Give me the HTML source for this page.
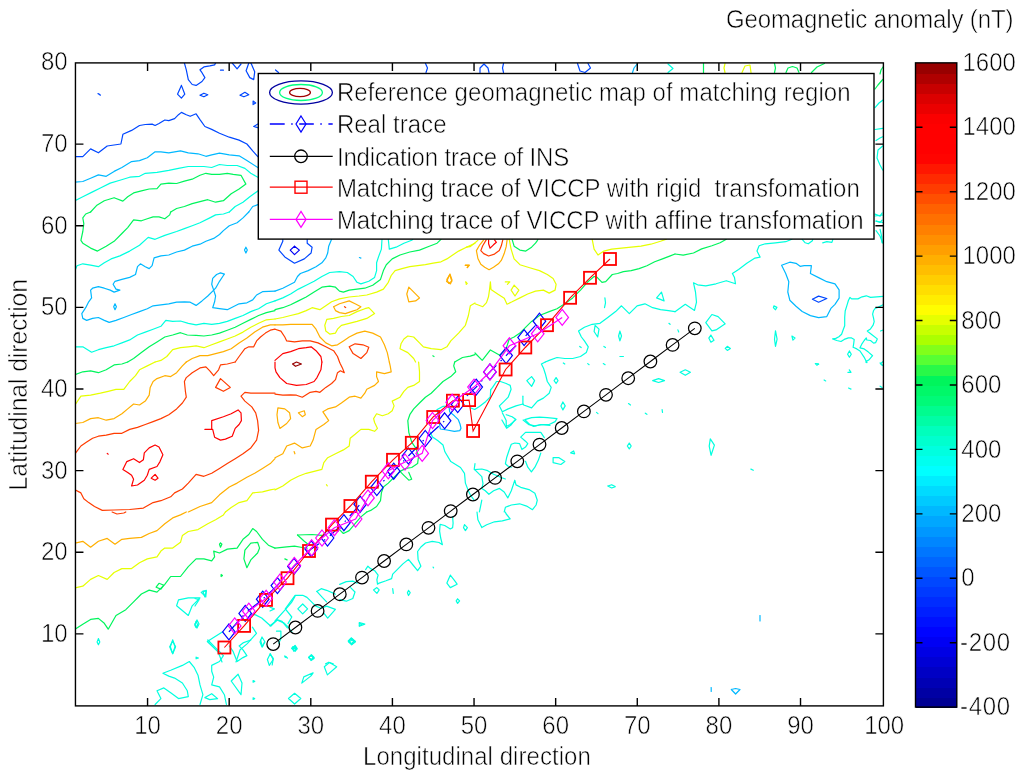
<!DOCTYPE html><html><head><meta charset="utf-8"><style>html,body{margin:0;padding:0;background:#fff;overflow:hidden}svg{display:block}</style></head><body><svg width="1024" height="780" viewBox="0 0 1024 780">
<rect width="1024" height="780" fill="#fff"/>
<defs><clipPath id="axclip"><rect x="75.45" y="62.9" width="807.95" height="643"/></clipPath></defs>
<g fill="none" stroke-width="1.2" stroke-linejoin="round" stroke-linecap="round" clip-path="url(#axclip)">
<path d="M75.0,156.7 L82.8,156.7 L90.6,148.9 L98.4,152.8 L107.2,146.0 L120.9,144.0 L122.9,134.3 L131.6,130.4 L139.5,125.5 L145.3,124.5 L152.1,124.1 L155.1,125.5 L159.0,123.5 L164.8,120.0 L168.8,120.6 L174.6,118.6 L178.5,114.7 L181.4,112.4 L186.3,114.7 L190.2,116.3 L196.1,113.8 L200.0,119.6 L204.9,126.5 L211.7,129.4 L219.5,133.3 L229.3,137.2 L239.1,140.1 L246.9,144.0 L252.7,150.9 L257.8,156.7" stroke="#0047ff"/>
<path d="M184.4,63.0 L186.3,69.8 L188.3,79.6 L192.2,84.5 L196.1,85.4 L202.0,81.5 L204.9,77.6 L202.0,72.7 L200.0,69.8 L203.9,66.9 L209.8,65.9 L214.6,64.9 L215.6,63.0" stroke="#0047ff"/>
<path d="M232.2,63.0 L237.1,68.8 L241.0,64.0" stroke="#0047ff"/>
<path d="M248.8,63.0 L246.1,70.8 L249.8,77.6 L253.7,79.6 L254.7,71.8 L251.8,64.9 L250.8,63.0" stroke="#0047ff"/>
<path d="M98.0,93.6 L99.4,94.2 L100.4,95.2 L98.0,93.6" stroke="#0047ff"/>
<path d="M181.4,85.4 L177.5,94.2 L181.4,98.1 L184.8,94.2 L181.4,85.4" stroke="#0047ff"/>
<path d="M200.0,95.2 L203.9,93.2 L207.8,94.8 L203.9,96.8 L200.0,95.2" stroke="#0047ff"/>
<path d="M240.0,95.2 L244.9,92.3 L248.8,94.8 L243.9,96.8 L240.0,95.2" stroke="#0047ff"/>
<path d="M253.1,101.1 L255.7,103.0 L253.1,104.6 L253.1,101.1" stroke="#0047ff"/>
<path d="M257.8,124.1 L253.7,126.5 L257.8,127.6" stroke="#0047ff"/>
<path d="M220.5,70.2 L223.4,70.2" stroke="#0047ff"/>
<path d="M75.0,182.1 L82.8,181.5 L90.6,178.2 L98.4,174.9 L106.2,176.3 L114.1,171.4 L121.9,167.5 L131.6,161.6 L139.5,160.6 L147.3,157.7 L155.1,151.8 L160.9,151.8 L168.8,152.8 L180.5,150.9 L188.3,152.8 L198.0,153.8 L205.9,156.3 L211.7,154.8 L219.5,153.2 L229.3,154.8 L239.1,155.8 L246.9,160.6 L257.8,167.5" stroke="#00b8ff"/>
<path d="M75.0,200.7 L82.8,196.8 L92.6,191.9 L100.4,188.0 L110.2,183.1 L119.9,180.2 L129.7,177.2 L139.5,176.3 L145.3,173.3 L157.0,172.4 L168.8,170.4 L178.5,168.4 L188.3,166.5 L196.1,166.5 L203.9,166.5 L211.7,167.5 L219.5,164.5 L227.3,165.5 L237.1,165.5 L244.9,168.4 L250.8,173.3 L257.8,177.2" stroke="#00ffdf"/>
<path d="M90.6,212.0 L96.5,205.6 L104.3,200.7 L114.1,197.7 L122.9,201.1 L127.7,196.8 L133.6,192.9 L141.4,190.9 L149.2,189.0 L157.0,188.6 L160.9,184.1 L168.8,183.1 L176.6,183.5 L184.4,181.1 L192.2,179.2 L200.0,175.3 L205.9,173.3 L211.7,174.3 L219.5,174.3 L227.3,173.3 L233.2,174.3 L241.0,175.3 L245.9,184.1 L239.1,189.0 L231.2,193.8 L223.4,200.7 L215.6,202.2 L207.8,199.7 L200.0,201.6 L192.2,203.6 L184.4,206.5 L176.6,208.5 L170.7,212.0" stroke="#00f55c"/>
<path d="M229.3,212.0 L235.2,206.5 L243.0,202.2 L249.8,196.8 L257.8,190.9" stroke="#00ffdf"/>
<path d="M248.8,212.0 L252.7,206.5 L257.8,204.6" stroke="#00b8ff"/>
<path d="M170.7,212.0 L169.7,214.9 L164.8,218.8 L159.0,216.9 L153.1,216.9 L147.3,218.8 L141.4,220.8 L133.6,219.8 L127.7,227.6 L121.9,233.5 L114.1,241.3 L106.2,246.2 L97.5,251.1 L90.6,248.1 L82.8,243.2 L80.9,240.3 L82.8,231.5 L83.8,223.7 L82.8,217.9 L85.7,214.0 L90.6,212.0" stroke="#00f55c"/>
<path d="M75.0,270.6 L77.0,265.7 L82.8,263.8 L90.6,265.1 L98.4,266.7 L104.3,262.8 L111.1,258.9 L119.9,255.9 L129.7,251.1 L139.5,245.2 L148.2,237.4 L155.1,239.3 L164.8,235.4 L176.6,231.5 L184.4,228.6 L192.2,225.7 L200.0,222.7 L209.8,217.9 L215.6,214.9 L223.4,214.0 L229.3,212.0" stroke="#00ffdf"/>
<path d="M248.8,212.0 L243.0,217.9 L237.1,222.7 L229.3,225.7 L223.4,230.6 L219.5,234.5 L213.7,238.4 L205.9,241.3 L200.0,244.2 L192.2,246.2 L184.4,250.1 L176.6,252.0 L168.8,255.0 L160.9,255.9 L154.1,257.9 L152.1,265.7 L149.2,268.6 L145.3,266.7 L140.4,263.8 L137.5,266.7 L135.5,274.5 L129.7,277.4 L121.9,279.4 L115.0,281.3 L113.1,284.3 L116.0,289.1 L119.9,290.1 L114.1,292.1 L110.2,290.1 L104.3,288.2 L98.4,286.6 L92.6,288.2 L90.6,290.1 L91.6,297.9 L88.7,301.8 L85.7,307.7 L81.8,313.6 L82.8,318.4 L86.7,320.4 L92.6,318.4 L98.4,317.5 L104.3,320.4 L109.2,322.4 L116.0,320.4 L123.8,317.5 L131.6,314.5 L139.5,311.6 L147.3,308.7 L153.1,305.8 L160.9,304.8 L168.8,303.8 L176.6,302.2 L184.4,301.8 L190.2,302.2 L196.1,305.4 L202.0,300.9 L207.8,296.0 L212.7,291.1 L215.6,288.2 L219.5,281.3 L223.4,275.5 L224.4,274.1 L220.5,272.9 L216.6,274.5 L212.7,278.4 L211.7,284.3 L213.7,290.1 L215.6,296.0 L214.6,301.8 L212.7,307.7 L219.5,308.7 L227.3,309.7 L233.2,306.7 L239.1,303.8 L246.9,302.8 L252.7,299.9 L256.6,295.0 L262.5,291.7 L275.0,291.1" stroke="#00b8ff"/>
<path d="M115.0,303.8 L116.4,306.7 L115.0,309.7 L113.7,306.7 L115.0,303.8" stroke="#00b8ff"/>
<path d="M245.9,247.2 L247.3,250.1 L245.9,253.0 L244.5,250.1 L245.9,247.2" stroke="#00b8ff"/>
<path d="M75.0,346.8 L82.8,346.8 L91.6,352.2 L98.4,349.7 L106.2,347.7 L114.1,345.8 L121.9,342.9 L129.7,339.9 L137.5,335.0 L145.3,332.1 L153.1,329.2 L160.9,326.3 L165.8,320.4 L172.7,321.4 L180.5,321.0 L188.3,323.3 L196.1,324.9 L203.9,323.3 L211.7,324.3 L219.5,323.3 L227.3,321.4 L235.2,318.4 L243.0,315.5 L250.8,311.6 L258.6,308.7 L266.4,303.8 L275.0,300.9" stroke="#00ffdf"/>
<path d="M127.7,362.0 L133.6,358.5 L141.4,352.6 L149.2,346.8 L157.0,341.9 L164.8,337.0 L172.7,335.0 L180.5,332.7 L187.3,335.0 L196.1,335.4 L203.9,336.0 L211.7,335.0 L219.5,333.1 L227.3,330.2 L235.2,327.2 L243.0,323.3 L250.8,319.4 L258.6,315.5 L266.4,312.6 L275.0,310.6" stroke="#00f55c"/>
<path d="M155.1,362.0 L160.9,360.4 L166.8,356.5 L172.7,349.7 L180.5,347.7 L188.3,346.8 L196.1,345.8 L203.9,347.7 L211.7,344.8 L219.5,341.9 L227.3,339.0 L235.2,336.0 L243.0,332.1 L250.8,327.2 L258.6,323.3 L266.4,319.8 L275.0,319.0" stroke="#e6ff00"/>
<path d="M186.3,362.0 L192.2,358.5 L200.0,355.6 L207.8,355.6 L215.6,353.6 L223.4,351.6 L231.2,348.7 L239.1,342.9 L246.9,338.0 L254.7,332.1 L262.5,327.2 L270.3,324.9 L275.0,324.9" stroke="#ffaf00"/>
<path d="M235.2,362.0 L239.1,356.5 L244.9,348.7 L248.8,346.8 L253.7,346.8 L256.6,340.9 L260.5,337.0 L265.4,333.1 L270.3,330.2 L275.0,329.2" stroke="#ff3c00"/>
<path d="M75.0,374.7 L82.8,371.8 L90.6,370.8 L98.4,372.7 L106.2,369.8 L114.1,364.9 L121.9,364.0 L127.7,362.0" stroke="#00f55c"/>
<path d="M75.0,405.0 L80.9,396.2 L90.6,395.2 L100.4,393.2 L108.2,391.3 L116.0,389.3 L123.8,389.3 L129.7,381.5 L135.5,375.7 L139.5,369.8 L147.3,365.9 L155.1,362.0" stroke="#e6ff00"/>
<path d="M75.0,423.5 L82.8,422.5 L90.6,418.6 L98.4,417.7 L106.2,420.2 L114.1,418.6 L121.9,413.8 L127.7,408.9 L133.6,404.0 L139.5,405.0 L145.3,401.1 L149.2,395.2 L150.2,387.4 L153.1,381.5 L157.0,378.6 L164.8,375.7 L170.7,376.6 L176.6,372.7 L182.4,365.9 L186.3,362.0" stroke="#ffaf00"/>
<path d="M235.2,362.0 L227.3,364.0 L220.5,364.9 L218.6,369.8 L213.7,375.7 L209.8,370.8 L205.9,366.9 L200.0,367.9 L192.2,372.7 L186.3,377.6 L184.4,381.5 L185.4,391.3 L186.3,397.2 L182.4,403.0 L176.6,408.9 L168.8,414.7 L160.9,418.6 L153.1,421.6 L145.3,424.5 L137.5,427.4 L129.7,429.4 L121.9,433.3 L114.1,433.3 L106.2,435.2 L98.4,436.2 L92.6,438.2 L86.7,442.1 L80.9,446.0 L75.0,453.8" stroke="#ff3c00"/>
<path d="M75.0,489.9 L80.9,492.9 L83.8,498.7 L88.7,502.6 L94.5,506.5 L102.3,510.4 L114.1,510.0 L129.7,509.5 L143.4,508.1 L153.1,502.6 L160.9,500.7 L170.7,496.8 L174.6,492.9 L182.4,489.0 L188.3,483.1 L196.1,474.3 L203.9,476.3 L211.7,473.3 L219.5,468.4 L227.3,463.6 L235.2,458.7 L243.0,453.8 L250.8,447.9 L256.6,440.1 L258.6,430.4 L257.6,420.6 L255.7,412.8 L251.8,406.9 L244.9,401.1 L241.0,396.2 L244.9,392.3 L250.8,393.2 L262.5,393.2 L275.0,393.2" stroke="#ff3c00"/>
<path d="M215.6,387.4 L220.5,378.6 L230.3,387.4 L223.4,391.3 L215.6,387.4" stroke="#ff3c00"/>
<path d="M211.7,420.6 L223.4,416.7 L231.2,413.8 L238.1,409.9 L241.0,412.8 L241.4,420.6 L239.1,424.5 L235.2,428.4 L232.2,436.2 L225.4,439.1 L220.5,440.1 L214.6,437.2 L212.7,429.4 L204.9,429.4 L211.7,429.4 L211.7,420.6" stroke="#ff0000"/>
<path d="M122.9,469.4 L126.8,461.6 L133.6,458.7 L139.5,462.6 L143.4,459.7 L144.3,452.8 L149.2,447.9 L155.1,445.0 L159.0,447.0 L162.9,454.8 L160.0,461.6 L157.0,466.5 L149.2,469.4 L147.3,475.3 L144.3,480.2 L137.5,485.0 L131.6,486.0 L133.6,479.2 L131.6,475.3 L127.7,472.4 L122.9,469.4" stroke="#ff0000"/>
<path d="M151.2,478.2 L155.1,474.3 L158.0,478.2 L155.1,480.2 L151.2,478.2" stroke="#ff0000"/>
<path d="M107.2,453.4 L108.2,454.2" stroke="#ff0000"/>
<path d="M188.3,512.0 L200.0,506.5 L211.7,502.6 L219.5,494.8 L229.3,487.0 L237.1,483.1 L246.9,477.2 L254.7,473.3 L262.5,468.4 L270.3,463.6 L275.0,458.7" stroke="#ffaf00"/>
<path d="M225.4,512.0 L231.2,507.5 L239.1,502.6 L246.9,500.7 L252.7,492.9 L262.5,491.9 L270.3,489.9 L275.0,489.0" stroke="#e6ff00"/>
<path d="M112.1,512.0 L117.0,514.0 L123.8,513.0 L125.8,512.0" stroke="#ff3c00"/>
<path d="M75.0,543.2 L82.8,541.3 L90.6,547.2 L98.4,541.3 L107.2,538.4 L115.0,544.2 L121.9,539.3 L129.7,538.4 L141.4,537.4 L149.2,533.5 L157.0,530.6 L164.8,523.7 L172.7,517.9 L180.5,514.9 L186.3,512.0" stroke="#ffaf00"/>
<path d="M75.0,587.8 L82.8,586.2 L90.6,579.4 L98.4,575.5 L107.2,579.4 L114.1,572.5 L121.9,568.6 L131.6,568.6 L139.5,562.8 L147.3,558.9 L157.0,556.9 L160.9,551.1 L164.8,548.1 L172.7,548.1 L180.5,542.3 L182.4,535.4 L188.3,531.5 L198.0,529.6 L207.8,523.7 L215.6,519.8 L223.4,514.9 L225.4,512.0" stroke="#e6ff00"/>
<path d="M75.0,629.2 L82.8,624.3 L90.6,619.4 L98.4,618.4 L104.3,623.3 L108.2,629.2 L116.0,615.5 L125.8,609.7 L133.6,601.8 L141.4,594.0 L149.2,590.1 L157.0,592.1 L164.8,584.3 L170.7,576.5 L180.5,576.5 L188.3,566.7 L196.1,558.9 L203.9,558.9 L211.7,560.8 L214.6,556.9 L213.7,551.1 L219.5,553.0 L227.3,549.1 L237.1,548.1 L243.0,539.3 L248.8,534.5 L252.7,528.6 L256.6,531.5 L262.5,539.3 L268.4,545.2 L275.0,548.1" stroke="#00f55c"/>
<path d="M156.1,587.2 L159.0,583.3 L163.9,585.2 L160.9,589.1 L156.1,587.2" stroke="#00f55c"/>
<path d="M244.9,550.1 L250.8,543.2 L257.6,542.3 L259.6,548.1 L257.6,553.0 L250.8,559.9 L246.9,567.7 L243.9,558.9 L244.9,550.1" stroke="#00f55c"/>
<path d="M220.5,542.9 L221.9,544.2 L220.5,547.2 L219.5,544.2 L220.5,542.9" stroke="#00f55c"/>
<path d="M221.1,574.5 L222.5,575.5 L221.1,576.5 L221.1,574.5" stroke="#00f55c"/>
<path d="M178.5,599.9 L188.3,597.9 L200.0,597.9 L192.2,605.8 L188.3,615.5 L181.4,609.7 L176.6,605.8 L178.5,599.9" stroke="#00ffdf"/>
<path d="M202.9,591.1 L206.2,591.1 L204.9,597.0 L202.9,591.1" stroke="#00ffdf"/>
<path d="M196.1,621.4 L197.7,624.9 L196.1,627.6 L194.7,624.9 L196.1,621.4" stroke="#00ffdf"/>
<path d="M98.4,638.6 L99.8,641.9 L98.4,644.8 L97.1,641.9 L98.4,638.6" stroke="#00ffdf"/>
<path d="M172.7,639.9 L175.0,646.8 L172.7,653.6 L170.3,646.8 L172.7,639.9" stroke="#00ffdf"/>
<path d="M195.0,598.5 L199.1,599.7 L195.0,606.0" stroke="#00ffdf"/>
<path d="M201.2,592.3 L206.3,590.3 L205.8,596.9 L201.2,592.3" stroke="#00ffdf"/>
<path d="M222.7,631.8 L207.3,641.5 L218.0,651.8 L222.0,662.0" stroke="#00ffdf"/>
<path d="M250.0,614.0 L255.5,614.9 L261.7,618.0 L270.9,626.2 L277.0,620.0 L284.2,623.1 L288.3,627.2 L292.0,632.0" stroke="#00ffdf"/>
<path d="M275.0,621.0 L285.3,609.7 L291.4,602.6 L295.0,596.4" stroke="#00ffdf"/>
<path d="M236.0,662.0 L240.1,649.7 L247.3,643.6 L256.5,633.3 L252.4,627.2" stroke="#00ffdf"/>
<path d="M197.0,620.0 L199.0,624.0 L197.0,628.0 L195.0,624.0 L197.0,620.0" stroke="#00ffdf"/>
<path d="M262.0,637.0 L265.0,642.0 L262.0,647.0 L260.0,642.0 L262.0,637.0" stroke="#00ffdf"/>
<path d="M155.1,704.5 L160.9,698.6 L157.0,690.8 L163.9,687.9 L170.7,692.7 L178.5,698.6 L188.3,696.6 L187.3,690.8 L182.4,683.0 L174.6,678.1 L168.8,676.1 L162.9,673.2 L170.7,670.3 L182.4,665.4 L189.3,661.5 L194.1,667.3 L198.0,675.2 L200.0,684.9 L202.9,694.7 L200.0,704.5" stroke="#00ffdf"/>
<path d="M226.4,704.5 L224.4,694.7 L219.5,686.9 L211.7,684.9 L213.7,677.1 L211.7,671.2 L211.7,665.4 L219.5,661.5 L223.4,655.6 L219.5,651.7 L215.6,647.8 L209.8,642.0 L207.8,640.0" stroke="#00ffdf"/>
<path d="M229.3,645.9 L233.2,651.7 L237.1,661.5 L243.0,657.6 L246.9,655.6 L243.0,649.8 L239.1,645.9 L243.0,642.9 L250.8,640.0" stroke="#00ffdf"/>
<path d="M172.7,641.0 L175.6,646.8 L172.7,653.7 L169.7,646.8 L172.7,641.0" stroke="#00ffdf"/>
<path d="M231.2,681.0 L238.1,674.2 L242.0,683.0 L241.0,694.7 L231.2,681.0" stroke="#00ffdf"/>
<path d="M204.9,697.6 L211.7,693.7 L217.6,698.6 L209.8,699.6 L204.9,697.6" stroke="#00ffdf"/>
<path d="M270.3,653.7 L273.2,659.5 L269.3,665.4 L267.4,659.5 L270.3,653.7" stroke="#00ffdf"/>
<path d="M196.1,657.2 L198.4,658.0 L196.1,658.8 L196.1,657.2" stroke="#00ffdf"/>
<path d="M253.1,680.6 L254.7,681.4 L253.1,682.2 L253.1,680.6" stroke="#00ffdf"/>
<path d="M253.1,697.8 L254.7,698.6 L253.1,699.4 L253.1,697.8" stroke="#00ffdf"/>
<path d="M260.5,640.0 L262.5,646.8 L264.5,642.0" stroke="#00ffdf"/>
<path d="M282.8,239.3 L282.8,241.3 L278.9,250.1 L284.8,256.9 L294.5,263.2 L304.3,258.9 L311.1,253.0 L312.1,247.2 L307.2,243.2 L307.2,239.3" stroke="#0047ff"/>
<path d="M294.5,246.2 L299.4,250.1 L294.5,254.6 L290.2,250.1 L294.5,246.2" stroke="#0000f4"/>
<path d="M275.0,291.1 L282.8,288.2 L290.6,284.3 L294.5,282.3 L297.5,276.5 L300.4,273.5 L308.2,270.6 L316.0,266.7 L321.9,262.8 L325.8,257.9 L327.7,253.0 L328.7,246.2 L331.6,239.3" stroke="#00b8ff"/>
<path d="M359.4,257.5 L360.9,258.1" stroke="#00b8ff"/>
<path d="M275.0,300.9 L282.8,297.9 L290.6,294.0 L298.4,289.1 L306.2,285.2 L314.1,281.3 L321.9,276.5 L329.7,272.5 L339.5,271.6 L347.3,272.5 L353.1,276.5 L357.0,282.3 L360.9,283.9 L368.8,281.3 L374.6,277.4 L376.6,270.6 L376.6,262.8 L378.5,256.9 L381.4,249.1 L382.0,239.3" stroke="#00ffdf"/>
<path d="M388.3,239.3 L389.3,249.1 L396.1,247.2 L403.9,243.2 L411.7,240.3 L412.7,239.3" stroke="#00ffdf"/>
<path d="M275.0,309.7 L282.8,307.7 L290.6,304.8 L298.4,300.9 L306.2,297.0 L314.1,292.1 L321.9,287.2 L329.7,286.2 L335.5,287.2 L339.5,291.1 L343.4,292.1 L349.2,290.1 L357.0,289.1 L364.8,288.2 L372.7,285.2 L380.5,279.4 L383.4,270.6 L386.3,264.7 L392.2,258.9 L400.0,255.0 L409.8,252.0 L419.5,250.1 L429.3,246.2 L437.1,243.2 L441.0,239.3" stroke="#00f55c"/>
<path d="M275.0,319.0 L282.8,317.5 L290.6,315.5 L298.4,313.6 L306.2,310.6 L312.1,307.7 L319.9,309.7 L325.8,305.8 L331.6,301.8 L339.5,298.9 L349.2,297.0 L359.0,296.0 L366.8,295.0 L376.6,292.1 L383.4,289.1 L388.3,282.3 L391.2,275.5 L395.1,270.6 L402.0,268.6 L409.8,266.7 L417.6,265.7 L425.4,264.7 L433.2,263.2 L441.0,261.8 L446.9,258.9 L452.7,255.0 L458.6,251.1 L466.4,247.2 L475.0,243.2" stroke="#e6ff00"/>
<path d="M326.8,319.4 L333.6,318.4 L341.4,316.5 L349.2,315.5 L357.0,311.6 L364.8,308.7 L368.8,307.7 L374.6,313.6 L366.8,318.4 L357.0,321.4 L349.2,323.3 L341.4,325.3 L337.5,329.2 L335.5,333.1 L329.7,334.1 L325.8,331.1 L324.8,325.3 L326.8,319.4" stroke="#e6ff00"/>
<path d="M475.0,303.0 L470.3,305.8 L468.4,315.5 L465.4,325.3 L458.6,333.1 L450.8,340.9 L446.9,346.8 L441.0,349.7 L431.2,348.7 L423.4,346.8 L419.5,342.9 L413.7,337.0 L407.8,336.0 L403.9,339.0 L401.0,343.8 L400.0,348.7 L407.8,352.6 L413.7,358.5 L415.6,362.0" stroke="#e6ff00"/>
<path d="M333.6,306.7 L339.5,303.8 L349.2,300.9 L355.1,303.8 L360.9,306.7 L357.0,309.7 L351.2,311.6 L345.3,313.6 L339.5,312.6 L335.5,310.6 L333.6,306.7" stroke="#ffaf00"/>
<path d="M344.5,306.7 L345.7,307.5" stroke="#ff3c00"/>
<path d="M408.8,287.2 L419.5,297.9 L415.6,300.9 L408.8,301.8 L406.8,294.0 L408.8,287.2" stroke="#ffaf00"/>
<path d="M449.8,274.5 L451.8,281.3 L448.8,283.3 L446.9,279.4 L449.8,274.5" stroke="#ffaf00"/>
<path d="M465.4,265.1 L469.3,265.1 L467.4,267.7" stroke="#ffaf00"/>
<path d="M465.6,281.9 L467.2,283.5" stroke="#e6ff00"/>
<path d="M275.0,324.9 L282.8,324.9 L290.6,324.3 L298.4,324.3 L306.2,324.3 L312.1,324.3 L316.0,329.2 L319.9,337.0 L325.8,342.9 L331.6,345.8 L337.5,344.8 L343.4,340.9 L349.2,337.0 L357.0,333.1 L364.8,331.1 L372.7,333.1 L380.5,337.0 L384.4,344.8 L387.3,352.6 L389.3,362.0" stroke="#ffaf00"/>
<path d="M275.0,329.2 L280.9,331.1 L284.8,337.0 L286.7,340.9 L294.5,341.9 L302.3,340.9 L310.2,340.9 L318.0,342.9 L325.8,346.8 L333.6,350.7 L337.5,356.5 L339.5,362.0" stroke="#ff3c00"/>
<path d="M349.2,346.8 L355.1,343.8 L362.9,344.8 L368.8,347.2 L366.8,352.6 L360.9,358.5 L353.1,353.6 L349.2,346.8" stroke="#ff3c00"/>
<path d="M275.0,360.4 L282.8,353.6 L290.6,351.6 L298.4,348.7 L306.2,347.7 L311.1,346.8 L316.0,350.7 L320.9,356.5 L321.9,362.0" stroke="#ff0000"/>
<path d="M454.7,362.0 L462.5,357.5 L470.3,356.1 L475.0,354.6" stroke="#00f55c"/>
<path d="M432.8,355.8 L434.0,356.5" stroke="#00f55c"/>
<path d="M321.9,362.0 L320.9,369.8 L317.0,377.6 L314.1,381.5 L306.2,384.5 L296.5,385.4 L286.7,383.5 L279.9,377.6 L276.0,371.8 L275.0,367.9 L275.0,362.0" stroke="#ff0000"/>
<path d="M292.6,364.0 L296.5,362.0 L301.4,364.0 L295.5,366.3 L292.6,364.0" stroke="#980000"/>
<path d="M275.0,394.2 L282.8,395.2 L290.6,394.8 L296.5,395.2 L302.3,397.2 L310.2,392.3 L316.0,391.3 L319.9,392.3 L325.8,387.4 L331.6,383.5 L335.5,379.6 L337.5,372.7 L340.4,370.8 L344.3,372.7 L342.4,367.9 L340.4,364.0 L339.5,362.0" stroke="#ff3c00"/>
<path d="M275.0,457.7 L282.8,453.8 L286.7,446.0 L294.5,443.1 L302.3,447.9 L310.2,446.0 L313.1,440.1 L316.0,429.4 L323.8,424.5 L328.7,420.6 L324.8,414.7 L322.9,411.8 L327.7,408.9 L335.5,406.9 L341.4,403.0 L349.2,397.2 L355.1,396.2 L360.9,398.1 L364.8,393.2 L366.8,389.3 L374.6,385.4 L378.5,381.5 L376.6,376.6 L376.6,371.8 L384.4,373.7 L391.2,371.8 L390.2,365.9 L389.3,362.0" stroke="#ffaf00"/>
<path d="M277.9,407.9 L284.8,408.9 L289.6,412.8 L290.6,418.6 L286.7,423.5 L279.9,428.4 L277.9,422.5 L277.0,414.7 L277.9,407.9" stroke="#ffaf00"/>
<path d="M298.4,412.8 L304.3,410.8 L305.3,414.7 L302.3,416.7 L298.4,412.8" stroke="#ffaf00"/>
<path d="M294.1,451.5 L294.9,453.8" stroke="#ffaf00"/>
<path d="M275.0,489.9 L282.8,486.0 L290.6,480.2 L298.4,476.3 L306.2,473.3 L314.1,471.4 L321.9,469.4 L323.8,462.6 L327.7,457.7 L335.5,453.8 L343.4,449.9 L349.2,446.0 L350.2,438.2 L355.1,434.3 L360.9,429.4 L368.8,429.4 L374.6,431.3 L377.5,428.4 L374.6,422.5 L373.6,418.6 L376.6,413.8 L382.4,415.7 L388.3,413.8 L392.2,410.8 L394.1,405.9 L392.2,401.1 L400.0,397.2 L403.9,391.3 L407.8,387.4 L413.7,385.4 L419.5,381.5 L419.5,371.8 L418.6,362.0" stroke="#e6ff00"/>
<path d="M326.4,484.7 L327.3,485.8" stroke="#e6ff00"/>
<path d="M454.7,362.0 L453.7,365.9 L455.7,371.8 L450.8,376.6 L443.0,381.5 L437.1,387.4 L431.2,393.2 L425.4,397.2 L419.5,403.0 L413.7,408.9 L409.8,414.7 L407.8,420.6 L408.8,432.3 L411.7,442.1 L415.6,447.9 L418.6,455.8 L417.6,463.6 L411.7,467.5 L405.9,468.4 L400.0,471.4 L394.1,477.2 L388.3,483.1 L383.4,487.0 L381.4,492.9 L380.5,500.7 L376.6,506.5 L370.7,510.4 L366.8,512.0" stroke="#00f55c"/>
<path d="M400.0,471.4 L403.9,475.3 L408.8,480.2 L411.7,479.2 L408.8,472.4" stroke="#00f55c"/>
<path d="M475.0,463.6 L474.2,469.4" stroke="#00ffdf"/>
<path d="M437.2,409.5 L440.3,429.0 L447.0,430.0 L454.4,431.4 L459.8,430.6 L461.0,428.3 L460.0,424.0 L458.3,419.7 L454.4,415.8 L449.7,411.9 L448.9,406.0" stroke="#00b8ff"/>
<path d="M437.2,409.5 L442.7,406.4 L448.9,406.0" stroke="#00ffdf"/>
<path d="M470.8,408.0 L474.7,409.5 L479.4,406.4 L485.6,401.7 L490.3,397.0 L490.7,390.0" stroke="#00ffdf"/>
<path d="M430.2,432.2 L432.5,436.9 L438.0,440.8 L443.0,445.0 L444.9,451.8 L450.8,461.6 L460.5,467.5 L464.5,473.3 L465.4,483.1 L468.4,490.9 L470.3,494.8 L474.0,500.0" stroke="#00ffdf"/>
<path d="M275.0,548.1 L286.7,546.8 L294.5,546.2 L302.3,547.5 L307.2,548.1" stroke="#00f55c"/>
<path d="M297.5,535.0 L312.1,534.5 L321.9,535.4" stroke="#00f55c"/>
<path d="M297.5,535.0 L304.3,541.3 L309.2,545.2" stroke="#00f55c"/>
<path d="M366.8,512.0 L360.9,516.9 L355.1,523.7 L349.2,530.6 L343.4,533.5 L339.5,529.6 L337.5,527.6" stroke="#00f55c"/>
<path d="M284.8,558.9 L287.1,559.9" stroke="#00f55c"/>
<path d="M464.5,524.7 L467.4,527.6 L465.4,530.6 L463.5,527.6 L464.5,524.7" stroke="#00ffdf"/>
<path d="M457.6,598.9 L459.6,600.9 L457.6,603.4 L456.2,600.9 L457.6,598.9" stroke="#00ffdf"/>
<path d="M359.4,623.3 L361.9,624.3 L359.4,625.7" stroke="#00ffdf"/>
<path d="M351.2,638.0 L354.1,640.9 L351.2,643.8 L348.2,640.9 L351.2,638.0" stroke="#00ffdf"/>
<path d="M292.6,646.8 L296.5,648.7 L293.6,651.1 L292.6,646.8" stroke="#00ffdf"/>
<path d="M311.1,655.6 L313.7,657.5 L311.1,659.5 L308.6,657.5 L311.1,655.6" stroke="#00ffdf"/>
<path d="M286.3,656.9 L287.5,658.1" stroke="#00ffdf"/>
<path d="M452.6,516.5 L453.1,523.3 L452.6,527.8 L450.3,528.9 L444.7,525.5 L440.1,524.4 L439.6,531.2 L440.7,538.0 L442.4,544.7 L439.0,542.5 L432.2,541.3 L425.5,543.0 L420.9,547.0 L417.6,551.5 L418.1,559.4 L420.9,566.2 L417.6,570.7 L413.0,565.0 L408.5,559.4 L402.9,563.9 L397.2,569.6 L392.7,574.1 L391.6,578.6 L386.0,580.8 L379.2,583.1 L377.5,584.2 L376.9,579.7 L378.1,575.2 L374.7,570.7 L370.2,568.4 L367.9,566.2 L365.6,569.6" stroke="#00ffdf"/>
<path d="M373.5,589.9 L376.9,587.6 L379.2,589.9 L376.9,593.3 L373.5,589.9" stroke="#00ffdf"/>
<path d="M450.3,575.2 L454.8,580.8 L457.1,584.2 L450.3,587.6 L446.9,583.1 L450.3,575.2" stroke="#00ffdf"/>
<path d="M408.5,590.4 L410.2,592.7 L408.5,595.5 L407.4,592.7 L408.5,590.4" stroke="#00ffdf"/>
<path d="M392.7,588.7 L393.3,593.3" stroke="#00ffdf"/>
<path d="M433.1,567.1 L433.6,567.8" stroke="#00ffdf"/>
<path d="M270.0,625.8 L277.6,619.8 L282.0,621.4 L287.4,627.9" stroke="#00ffdf"/>
<path d="M288.0,623.6 L291.8,617.0 L285.3,608.9 L295.1,595.3 L302.7,595.3 L307.0,597.4 L315.8,606.1 L321.2,608.3 L326.6,606.1 L335.4,609.4 L327.7,618.1 L323.4,612.7" stroke="#00ffdf"/>
<path d="M302.7,604.0 L307.6,608.9 L302.7,613.8 L297.8,608.9 L302.7,604.0" stroke="#00ffdf"/>
<path d="M316.8,591.4 L321.2,588.7 L326.6,590.3 L333.2,593.1 L335.4,594.2" stroke="#00ffdf"/>
<path d="M316.8,591.4 L322.3,597.4 L326.6,601.8" stroke="#00ffdf"/>
<path d="M339.7,584.4 L346.3,581.6 L352.8,581.1 L357.1,583.3" stroke="#00ffdf"/>
<path d="M350.6,587.6 L355.0,592.0 L352.8,598.5 L346.3,601.2 L339.7,599.6" stroke="#00ffdf"/>
<path d="M276.5,631.2 L280.9,631.2 L280.9,638.8 L278.7,643.2" stroke="#00ffdf"/>
<path d="M270.0,607.2 L274.4,608.9 L270.0,611.0" stroke="#00ffdf"/>
<path d="M359.3,622.5 L364.8,624.1 L359.3,626.3 L359.3,622.5" stroke="#00ffdf"/>
<path d="M348.4,641.5 L351.7,638.3 L355.5,641.5 L351.7,644.8 L348.4,641.5" stroke="#00ffdf"/>
<path d="M291.8,648.6 L295.1,645.4 L297.2,648.6 L295.1,651.4 L291.8,648.6" stroke="#00ffdf"/>
<path d="M308.7,657.3 L311.4,654.6 L314.1,657.3 L311.4,660.1 L308.7,657.3" stroke="#00ffdf"/>
<path d="M284.7,656.8 L286.1,657.6" stroke="#00ffdf"/>
<path d="M325.6,663.9 L328.8,662.2 L333.2,663.9" stroke="#00ffdf"/>
<path d="M270.0,654.1 L273.3,658.4 L272.2,665.0" stroke="#00ffdf"/>
<path d="M512.1,239.3 L514.1,246.2 L519.9,250.1 L525.8,251.1 L531.6,247.2 L535.5,243.2 L537.5,240.3 L537.9,239.3" stroke="#00f55c"/>
<path d="M509.2,239.3 L511.1,249.1 L514.1,258.9 L519.9,264.7 L529.7,267.7 L539.5,270.6 L547.3,274.5 L553.1,278.4 L556.1,284.3 L555.1,290.1 L549.2,293.1 L543.4,290.1 L535.5,291.1 L527.7,294.0 L519.9,297.9 L512.1,301.8 L507.0,304.2 L504.3,298.3 L498.4,294.4 L491.0,289.5 L490.4,281.9 L489.6,289.1 L488.5,296.8 L486.5,302.6 L482.8,306.7 L475.0,303.8" stroke="#e6ff00"/>
<path d="M592.2,239.3 L594.1,249.1 L598.0,255.0 L603.9,251.1 L611.7,249.1 L621.5,248.1 L631.2,247.2 L641.0,246.2 L650.8,244.2 L660.5,241.3 L666.4,239.3" stroke="#e6ff00"/>
<path d="M505.3,281.9 L509.8,281.9 L507.4,284.3" stroke="#e6ff00"/>
<path d="M514.1,285.2 L518.9,290.1 L515.0,296.0 L511.1,290.1 L514.1,285.2" stroke="#e6ff00"/>
<path d="M475.0,353.0 L482.2,360.4 L490.4,349.9 L499.8,355.2 L505.7,349.9 L509.2,339.3 L514.1,337.0 L519.9,333.1 L525.8,327.2 L531.6,321.4 L539.5,315.5 L549.2,311.6 L557.0,308.7 L564.8,303.8 L572.7,297.9 L580.5,290.1 L587.3,282.3 L594.1,276.5 L596.9,277.2 L602.0,282.3 L605.7,281.7 L612.3,274.5 L617.6,273.5 L623.4,271.6 L631.2,270.6 L639.1,268.6 L646.9,265.7 L654.7,261.8 L662.5,258.9 L670.3,255.9 L675.0,254.0" stroke="#00f55c"/>
<path d="M545.3,362.0 L549.2,360.4 L557.0,357.5 L564.8,358.5 L572.7,358.5 L580.5,356.5 L586.3,352.6 L588.3,346.8 L584.4,340.9 L581.4,337.0 L578.5,331.1 L584.4,327.2 L592.2,324.3 L600.0,323.3 L607.8,317.5 L615.6,311.6 L621.5,305.8 L629.3,313.6 L637.1,305.8 L644.9,303.8 L652.7,307.7 L660.5,309.7 L668.4,310.6 L675.0,311.6" stroke="#00ffdf"/>
<path d="M595.1,325.3 L599.0,329.2 L597.7,337.0 L594.1,331.5 L595.1,325.3" stroke="#00ffdf"/>
<path d="M604.9,297.9 L605.5,302.8 L604.5,307.7" stroke="#00ffdf"/>
<path d="M619.9,331.1 L621.5,336.0 L619.9,340.9 L618.6,336.0 L619.9,331.1" stroke="#00ffdf"/>
<path d="M661.5,292.1 L664.1,300.9 L656.6,297.9 L661.5,292.1" stroke="#00ffdf"/>
<path d="M579.7,346.4 L581.2,347.5" stroke="#00ffdf"/>
<path d="M603.9,346.4 L605.5,347.5" stroke="#00ffdf"/>
<path d="M668.9,323.3 L670.1,324.3" stroke="#00ffdf"/>
<path d="M619.9,356.5 L623.4,356.5" stroke="#00ffdf"/>
<path d="M483.7,239.9 L479.8,244.8 L476.4,250.6 L477.9,258.5 L480.8,264.3 L484.7,267.3 L489.1,269.7 L493.5,267.3 L498.4,263.8 L501.3,260.4 L504.2,253.6 L506.2,246.7 L507.1,239.9" stroke="#ffaf00"/>
<path d="M486.2,239.9 L482.7,245.8 L480.8,250.6 L483.7,253.6 L488.6,256.0 L494.5,254.1 L499.3,250.6 L501.3,245.8 L502.8,239.9" stroke="#ff3c00"/>
<path d="M488.6,239.9 L488.6,243.8 L490.1,248.2 L493.5,244.8 L496.4,242.3 L494.5,239.9" stroke="#ff0000"/>
<path d="M466.4,247.2 L470.0,246.7 L473.9,243.8 L477.9,240.4" stroke="#e6ff00"/>
<path d="M465.2,265.3 L469.1,265.3 L467.1,267.3" stroke="#ffaf00"/>
<path d="M450.0,274.1 L452.0,280.0 L450.5,283.9 L446.6,281.4 L450.0,274.1" stroke="#ffaf00"/>
<path d="M466.0,282.0 L466.3,284.5" stroke="#e6ff00"/>
<path d="M490.6,389.9 L492.6,387.4 L496.5,381.5 L500.4,381.5 L506.2,383.5 L510.2,385.4 L511.1,389.3 L508.2,397.2 L504.3,401.1 L499.4,405.9 L502.3,411.8 L508.2,408.9 L516.0,405.9 L522.9,404.0 L523.8,405.0 L531.6,407.9 L537.5,401.1 L543.4,398.1 L549.2,393.2 L551.2,387.4 L547.3,381.5 L545.3,373.7 L543.4,367.9 L541.4,364.0 L545.3,362.0" stroke="#00ffdf"/>
<path d="M522.9,396.2 L522.9,404.0" stroke="#00ffdf"/>
<path d="M502.3,412.8 L506.2,420.6 L506.2,426.5 L510.2,424.5 L516.0,419.6 L512.1,416.7 L506.2,414.7" stroke="#00ffdf"/>
<path d="M524.8,419.6 L531.6,417.7 L539.5,417.1 L547.3,417.7 L557.0,418.6 L555.1,421.6 L549.2,424.5 L541.4,424.5 L533.6,426.5 L529.7,424.5 L524.8,419.6" stroke="#00ffdf"/>
<path d="M531.6,376.6 L534.6,380.6 L531.6,386.4 L526.8,380.6 L531.6,376.6" stroke="#00ffdf"/>
<path d="M556.1,377.6 L558.0,380.6 L556.1,383.5 L554.1,380.6 L556.1,377.6" stroke="#00ffdf"/>
<path d="M562.9,402.0 L565.2,405.9 L562.9,409.9 L560.9,405.9 L562.9,402.0" stroke="#00ffdf"/>
<path d="M629.3,443.1 L631.2,446.0 L629.3,448.9 L627.3,446.0 L629.3,443.1" stroke="#00ffdf"/>
<path d="M652.7,380.6 L658.6,378.6 L664.5,380.6 L658.6,382.5 L652.7,380.6" stroke="#00ffdf"/>
<path d="M553.1,457.7 L559.0,457.7 L564.8,461.6 L560.9,464.5 L553.1,462.6 L553.1,457.7" stroke="#00ffdf"/>
<path d="M570.7,452.8 L573.6,450.9 L574.6,453.8 L570.7,452.8" stroke="#00ffdf"/>
<path d="M607.8,486.0 L611.7,484.7 L615.2,486.6 L611.7,488.0 L607.8,486.0" stroke="#00ffdf"/>
<path d="M587.7,363.6 L589.1,364.7" stroke="#00ffdf"/>
<path d="M603.3,363.6 L605.1,364.7" stroke="#00ffdf"/>
<path d="M563.3,363.0 L564.8,364.0" stroke="#00ffdf"/>
<path d="M628.5,403.6 L630.5,405.0" stroke="#00ffdf"/>
<path d="M596.5,412.4 L598.0,413.6" stroke="#00ffdf"/>
<path d="M645.3,413.2 L646.9,414.3" stroke="#00ffdf"/>
<path d="M662.1,409.5 L662.5,412.4" stroke="#00ffdf"/>
<path d="M501.9,420.0 L506.6,428.3 L511.3,424.7 L514.8,420.0" stroke="#00ffdf"/>
<path d="M523.1,420.0 L529.0,424.7 L534.9,425.9 L540.8,424.7 L550.0,425.3" stroke="#00ffdf"/>
<path d="M544.3,437.7 L540.8,432.4 L533.7,432.4 L525.5,432.4 L520.7,437.1 L525.5,441.2 L527.8,443.6 L525.5,447.1 L521.9,449.5 L519.6,443.6 L514.8,443.0 L511.3,444.2 L508.9,450.7 L506.6,457.8 L505.4,463.7 L507.8,466.0 L511.3,467.2" stroke="#00ffdf"/>
<path d="M540.8,453.0 L538.4,460.1 L534.9,467.2 L531.4,471.9 L527.8,467.2 L525.5,461.3" stroke="#00ffdf"/>
<path d="M474.7,469.6 L481.8,469.0 L487.7,470.7 L493.6,474.3 L501.9,477.8 L505.4,479.0" stroke="#00ffdf"/>
<path d="M474.7,469.6 L481.8,476.6 L483.0,483.7 L481.8,488.4 L485.3,490.8 L488.9,494.3 L493.6,490.8 L499.5,488.4 L504.2,492.0 L507.8,497.9 L511.3,490.8 L514.8,480.2 L516.0,484.9 L520.7,487.3 L529.0,489.6 L534.9,493.2 L537.3,500.2 L536.1,505.0 L532.5,509.7 L526.6,506.1 L519.6,503.8 L511.3,505.0 L505.4,507.3 L504.2,512.0" stroke="#00ffdf"/>
<path d="M481.8,500.2 L480.6,506.1 L479.4,512.0" stroke="#00ffdf"/>
<path d="M505.3,512.0 L506.2,514.0 L510.2,518.8 L502.3,520.8 L494.5,521.8 L486.7,524.7 L481.8,527.6 L477.9,519.8 L477.0,512.0" stroke="#00ffdf"/>
<path d="M760.0,615.5 L760.0,621.0" stroke="#00b8ff"/>
<path d="M711.2,687.5 L711.2,691.5" stroke="#00b8ff"/>
<path d="M731.3,689.5 L735.6,688.5 L740.0,689.5 L735.6,694.0 L731.3,689.5" stroke="#00b8ff"/>
<path d="M324.3,666.7 L329.5,662.6 L336.7,666.7 L327.4,674.9 L324.3,666.7" stroke="#00ffdf"/>
<path d="M301.8,683.1 L303.8,676.9 L313.1,672.8 L311.0,675.9 L301.8,683.1" stroke="#00ffdf"/>
<path d="M288.5,698.5 L294.6,693.3 L300.8,698.5 L294.6,704.0 L288.5,698.5" stroke="#00ffdf"/>
<path d="M309.0,657.4 L311.0,655.4 L314.1,658.5 L311.0,660.5 L309.0,657.4" stroke="#00ffdf"/>
<path d="M291.5,648.2 L294.6,646.2 L296.7,649.2 L291.5,648.2" stroke="#00ffdf"/>
<path d="M352.0,640.0 L355.1,642.0 L352.0,644.1 L349.0,642.0 L352.0,640.0" stroke="#00ffdf"/>
<path d="M284.8,656.0 L286.0,657.0" stroke="#00ffdf"/>
<path d="M675.0,254.0 L683.2,255.1 L693.5,253.0 L701.7,248.9 L711.9,245.8 L720.1,242.8 L726.3,239.3" stroke="#00f55c"/>
<path d="M675.0,311.7 L685.3,304.3 L694.5,310.4 L696.5,302.2 L695.5,292.0 L693.5,282.8 L697.6,284.8 L705.8,285.8 L716.0,283.8 L726.3,280.7 L735.5,283.8 L734.5,277.6 L732.4,273.5 L738.6,269.4 L746.8,263.3 L755.0,258.1 L760.1,257.1 L757.0,251.0 L759.1,245.8 L765.2,243.8 L775.5,242.8 L785.7,241.7 L791.9,239.3" stroke="#00ffdf"/>
<path d="M802.2,239.3 L805.2,242.8 L808.3,243.8 L812.4,240.7 L812.8,239.3" stroke="#00ffdf"/>
<path d="M822.7,242.8 L826.8,241.7 L831.9,242.4 L832.9,239.3" stroke="#00ffdf"/>
<path d="M781.6,265.3 L789.8,262.2 L796.0,263.3 L800.1,266.3 L804.2,265.7 L811.4,265.7 L810.4,273.5 L818.6,277.6 L826.8,281.7 L835.0,283.8 L839.1,289.9 L839.1,298.1 L835.0,304.3 L830.9,308.4 L826.8,316.6 L818.6,317.6 L810.4,315.6 L802.2,311.5 L796.0,306.3 L789.8,300.2 L787.8,292.0 L788.8,281.7 L785.7,273.5 L781.6,265.3" stroke="#00b8ff"/>
<path d="M812.4,299.2 L818.6,296.1 L826.8,298.5 L818.6,302.2 L812.4,299.2" stroke="#0047ff"/>
<path d="M705.8,322.7 L711.9,314.5 L718.1,316.6 L725.2,323.8 L716.0,329.9 L711.9,330.9 L705.8,322.7" stroke="#00ffdf"/>
<path d="M710.9,335.1 L714.0,340.2 L710.9,342.2 L708.8,338.1 L710.9,335.1" stroke="#00ffdf"/>
<path d="M727.3,346.3 L730.4,348.4 L727.3,350.4 L725.2,348.4 L727.3,346.3" stroke="#00ffdf"/>
<path d="M773.9,305.9 L776.9,307.4 L775.5,309.8 L773.4,307.6 L773.9,305.9" stroke="#00ffdf"/>
<path d="M775.5,330.9 L777.1,339.2 L775.5,346.3 L774.5,339.2 L775.5,330.9" stroke="#00ffdf"/>
<path d="M791.9,336.1 L795.0,338.1 L792.9,340.2 L791.9,336.1" stroke="#00ffdf"/>
<path d="M677.9,329.9 L678.7,332.0" stroke="#00ffdf"/>
<path d="M815.5,363.8 L818.6,364.2" stroke="#00ffdf"/>
<path d="M880.1,229.4 L881.7,236.6 L882.1,242.8" stroke="#00ffdf"/>
<path d="M875.0,214.1 L880.1,216.1 L882.1,213.0" stroke="#00ffdf"/>
<path d="M876.0,221.2 L880.1,222.3 L882.1,220.2" stroke="#00ffdf"/>
<path d="M883.1,296.3 L876.8,296.8 L870.5,297.4 L866.3,295.8 L862.1,296.8 L857.9,298.9 L851.6,298.9 L850.0,297.4 L848.4,300.5 L846.8,305.8 L845.2,311.0 L844.7,317.3 L844.7,325.8 L843.1,330.0 L841.6,334.2 L838.9,336.8 L835.8,338.4 L832.6,338.9 L836.8,340.5 L841.0,341.5 L844.2,339.4 L848.4,337.9 L851.6,337.9 L854.2,339.4 L853.7,343.6 L853.1,347.3 L856.8,348.9 L860.0,351.0 L864.2,357.3 L866.3,361.5 L869.4,359.4 L872.6,355.7 L868.4,352.1 L864.2,348.9 L860.0,347.8 L862.1,343.6 L864.2,340.5 L866.3,337.9 L866.8,340.0 L870.5,340.5 L873.6,343.1 L875.7,342.6 L877.3,338.9 L872.6,335.2 L868.4,332.1 L867.3,331.0 L870.5,328.9 L873.1,325.2 L874.2,321.6 L873.6,318.4 L872.6,314.2 L873.6,310.5 L875.2,308.4 L877.8,307.4 L883.1,304.7" stroke="#00ffdf"/>
<path d="M849.4,351.0 L851.3,354.2 L849.4,357.3 L847.6,354.2 L849.4,351.0" stroke="#00ffdf"/>
<path d="M880.5,331.0 L883.1,330.0" stroke="#00ffdf"/>
<path d="M883.1,361.5 L880.5,363.6 L883.1,365.7" stroke="#00ffdf"/>
<path d="M680.1,372.3 L685.3,369.8 L690.4,372.3 L685.3,375.3 L680.1,372.3" stroke="#00ffdf"/>
<path d="M710.3,438.9 L714.4,445.1 L711.1,455.3 L709.2,446.1 L710.3,438.9" stroke="#00ffdf"/>
<path d="M750.9,469.1 L753.3,470.3" stroke="#00ffdf"/>
<path d="M815.3,363.6 L818.6,364.1 L816.9,365.3" stroke="#00ffdf"/>
<path d="M824.1,380.0 L825.7,380.9" stroke="#00ffdf"/>
<path d="M847.9,372.3 L851.0,372.3 L849.3,369.8" stroke="#00ffdf"/>
<path d="M848.5,388.0 L851.0,389.1" stroke="#00ffdf"/>
<path d="M880.1,363.0 L882.1,365.1" stroke="#00ffdf"/>
<path d="M880.1,386.2 L882.1,387.6" stroke="#00ffdf"/>
<path d="M865.7,362.0 L867.0,362.6" stroke="#00ffdf"/>
<path d="M275.5,70.0 L278.5,72.5" stroke="#0047ff"/>
<path d="M425.5,63.5 L427.5,68.0 L426.0,72.5" stroke="#0047ff"/>
<path d="M480.0,72.5 L480.0,68.0 L484.0,64.0 L488.0,68.0 L489.0,72.5" stroke="#0047ff"/>
<path d="M503.5,63.5 L502.5,68.0 L503.5,72.5" stroke="#0047ff"/>
<path d="M577.5,63.5 L580.0,71.0 L585.0,72.5 L590.5,68.0 L588.0,63.5" stroke="#0047ff"/>
<path d="M632.5,72.5 L634.0,68.0 L637.5,63.5" stroke="#00b8ff"/>
<path d="M668.0,64.0 L673.0,68.5 L668.0,72.5" stroke="#00ffdf"/>
<path d="M703.5,63.5 L703.5,72.5" stroke="#00f55c"/>
<path d="M725.0,63.5 L724.0,68.0 L725.0,72.5" stroke="#e6ff00"/>
<path d="M742.0,72.5 L745.0,66.0 L750.0,65.0 L751.0,72.5" stroke="#e6ff00"/>
<path d="M774.5,63.5 L775.5,68.0 L774.5,72.5" stroke="#00f55c"/>
<path d="M786.0,72.5 L788.0,68.0 L792.5,66.5 L797.0,68.0 L799.0,72.5" stroke="#00f55c"/>
<path d="M811.5,72.5 L817.0,67.0 L824.5,63.5" stroke="#00f55c"/>
<path d="M880.0,74.0 L881.0,70.0 L883.0,67.0" stroke="#00f55c"/>
<path d="M875.0,89.0 L878.0,85.0 L882.7,79.5" stroke="#00f55c"/>
<path d="M875.0,107.6 L879.0,103.0 L882.7,100.2" stroke="#00ffdf"/>
<path d="M875.0,129.5 L882.7,128.3" stroke="#00ffdf"/>
<path d="M876.0,140.5 L880.0,138.0 L882.7,136.8" stroke="#00ffdf"/>
<path d="M882.7,146.0 L878.0,150.0 L877.0,158.0 L880.0,165.0 L882.7,170.0" stroke="#00ffdf"/>
<path d="M875.0,216.0 L882.7,215.0" stroke="#00ffdf"/>
<path d="M876.0,221.0 L882.7,222.5" stroke="#00ffdf"/>
<path d="M876.0,230.7 L880.0,236.0 L882.7,243.0" stroke="#00ffdf"/>
</g>
<polyline points="273.2,644.1 295.4,627.5 317.6,610.9 339.8,594.2 362.0,577.6 384.1,561.0 406.3,544.4 428.5,527.8 450.7,511.1 472.9,494.5 495.1,477.9 517.3,461.3 539.5,444.6 561.7,428.0 583.9,411.4 606.0,394.8 628.2,378.2 650.4,361.5 672.6,344.9 694.8,328.3" fill="none" stroke="#000" stroke-width="1.05"/>
<ellipse cx="273.2" cy="644.1" rx="6.3" ry="6.3" fill="none" stroke="#000" stroke-width="1.25"/>
<ellipse cx="295.4" cy="627.5" rx="6.3" ry="6.3" fill="none" stroke="#000" stroke-width="1.25"/>
<ellipse cx="317.6" cy="610.9" rx="6.3" ry="6.3" fill="none" stroke="#000" stroke-width="1.25"/>
<ellipse cx="339.8" cy="594.2" rx="6.3" ry="6.3" fill="none" stroke="#000" stroke-width="1.25"/>
<ellipse cx="362.0" cy="577.6" rx="6.3" ry="6.3" fill="none" stroke="#000" stroke-width="1.25"/>
<ellipse cx="384.1" cy="561.0" rx="6.3" ry="6.3" fill="none" stroke="#000" stroke-width="1.25"/>
<ellipse cx="406.3" cy="544.4" rx="6.3" ry="6.3" fill="none" stroke="#000" stroke-width="1.25"/>
<ellipse cx="428.5" cy="527.8" rx="6.3" ry="6.3" fill="none" stroke="#000" stroke-width="1.25"/>
<ellipse cx="450.7" cy="511.1" rx="6.3" ry="6.3" fill="none" stroke="#000" stroke-width="1.25"/>
<ellipse cx="472.9" cy="494.5" rx="6.3" ry="6.3" fill="none" stroke="#000" stroke-width="1.25"/>
<ellipse cx="495.1" cy="477.9" rx="6.3" ry="6.3" fill="none" stroke="#000" stroke-width="1.25"/>
<ellipse cx="517.3" cy="461.3" rx="6.3" ry="6.3" fill="none" stroke="#000" stroke-width="1.25"/>
<ellipse cx="539.5" cy="444.6" rx="6.3" ry="6.3" fill="none" stroke="#000" stroke-width="1.25"/>
<ellipse cx="561.7" cy="428.0" rx="6.3" ry="6.3" fill="none" stroke="#000" stroke-width="1.25"/>
<ellipse cx="583.9" cy="411.4" rx="6.3" ry="6.3" fill="none" stroke="#000" stroke-width="1.25"/>
<ellipse cx="606.0" cy="394.8" rx="6.3" ry="6.3" fill="none" stroke="#000" stroke-width="1.25"/>
<ellipse cx="628.2" cy="378.2" rx="6.3" ry="6.3" fill="none" stroke="#000" stroke-width="1.25"/>
<ellipse cx="650.4" cy="361.5" rx="6.3" ry="6.3" fill="none" stroke="#000" stroke-width="1.25"/>
<ellipse cx="672.6" cy="344.9" rx="6.3" ry="6.3" fill="none" stroke="#000" stroke-width="1.25"/>
<ellipse cx="694.8" cy="328.3" rx="6.3" ry="6.3" fill="none" stroke="#000" stroke-width="1.25"/>
<polyline points="228.9,631.9 245.2,613.4 262.7,599.2 277.4,585.6 294.0,566.4 311.2,548.9 327.5,538.0 343.9,522.7 360.2,504.2 376.8,487.6 393.7,471.2 408.4,456.0 425.3,438.5 444.6,420.8 457.7,404.5 476.2,387.1 489.9,371.9 506.1,355.6 524.1,337.6 539.4,321.2" fill="none" stroke="#0000ff" stroke-width="1.2" stroke-dasharray="14.5 6 1.5 6"/>
<path d="M228.9,623.9L235.2,631.9L228.9,639.9L222.6,631.9Z" fill="none" stroke="#0000ff" stroke-width="1.2"/>
<path d="M245.2,605.4L251.5,613.4L245.2,621.4L238.9,613.4Z" fill="none" stroke="#0000ff" stroke-width="1.2"/>
<path d="M262.7,591.2L269.0,599.2L262.7,607.2L256.4,599.2Z" fill="none" stroke="#0000ff" stroke-width="1.2"/>
<path d="M277.4,577.6L283.7,585.6L277.4,593.6L271.1,585.6Z" fill="none" stroke="#0000ff" stroke-width="1.2"/>
<path d="M294.0,558.4L300.3,566.4L294.0,574.4L287.7,566.4Z" fill="none" stroke="#0000ff" stroke-width="1.2"/>
<path d="M311.2,540.9L317.5,548.9L311.2,556.9L304.9,548.9Z" fill="none" stroke="#0000ff" stroke-width="1.2"/>
<path d="M327.5,530.0L333.8,538.0L327.5,546.0L321.2,538.0Z" fill="none" stroke="#0000ff" stroke-width="1.2"/>
<path d="M343.9,514.7L350.2,522.7L343.9,530.7L337.6,522.7Z" fill="none" stroke="#0000ff" stroke-width="1.2"/>
<path d="M360.2,496.2L366.5,504.2L360.2,512.2L353.9,504.2Z" fill="none" stroke="#0000ff" stroke-width="1.2"/>
<path d="M376.8,479.6L383.1,487.6L376.8,495.6L370.5,487.6Z" fill="none" stroke="#0000ff" stroke-width="1.2"/>
<path d="M393.7,463.2L400.0,471.2L393.7,479.2L387.4,471.2Z" fill="none" stroke="#0000ff" stroke-width="1.2"/>
<path d="M408.4,448.0L414.7,456.0L408.4,464.0L402.1,456.0Z" fill="none" stroke="#0000ff" stroke-width="1.2"/>
<path d="M425.3,430.5L431.6,438.5L425.3,446.5L419.0,438.5Z" fill="none" stroke="#0000ff" stroke-width="1.2"/>
<path d="M444.6,412.8L450.9,420.8L444.6,428.8L438.3,420.8Z" fill="none" stroke="#0000ff" stroke-width="1.2"/>
<path d="M457.7,396.5L464.0,404.5L457.7,412.5L451.4,404.5Z" fill="none" stroke="#0000ff" stroke-width="1.2"/>
<path d="M476.2,379.1L482.5,387.1L476.2,395.1L469.9,387.1Z" fill="none" stroke="#0000ff" stroke-width="1.2"/>
<path d="M489.9,363.9L496.2,371.9L489.9,379.9L483.6,371.9Z" fill="none" stroke="#0000ff" stroke-width="1.2"/>
<path d="M506.1,347.6L512.4,355.6L506.1,363.6L499.8,355.6Z" fill="none" stroke="#0000ff" stroke-width="1.2"/>
<path d="M524.1,329.6L530.4,337.6L524.1,345.6L517.8,337.6Z" fill="none" stroke="#0000ff" stroke-width="1.2"/>
<path d="M539.4,313.2L545.7,321.2L539.4,329.2L533.1,321.2Z" fill="none" stroke="#0000ff" stroke-width="1.2"/>
<polyline points="224.4,647.5 244.1,625.9 266.0,599.9 287.5,578.2 309.0,551.0 332.0,524.6 350.4,506.0 371.8,481.7 393.0,459.8 411.8,442.8 433.2,417.0 452.9,400.7 469.1,400.1 473.1,431.0 505.6,369.5 525.3,347.5 547.0,325.2 570.1,297.8 590.0,277.8 610.0,259.0" fill="none" stroke="#ff0000" stroke-width="1.1"/>
<rect x="218.4" y="641.5" width="12" height="12" fill="none" stroke="#ff0000" stroke-width="1.8"/>
<rect x="238.1" y="619.9" width="12" height="12" fill="none" stroke="#ff0000" stroke-width="1.8"/>
<rect x="260.0" y="593.9" width="12" height="12" fill="none" stroke="#ff0000" stroke-width="1.8"/>
<rect x="281.5" y="572.2" width="12" height="12" fill="none" stroke="#ff0000" stroke-width="1.8"/>
<rect x="303.0" y="545.0" width="12" height="12" fill="none" stroke="#ff0000" stroke-width="1.8"/>
<rect x="326.0" y="518.6" width="12" height="12" fill="none" stroke="#ff0000" stroke-width="1.8"/>
<rect x="344.4" y="500.0" width="12" height="12" fill="none" stroke="#ff0000" stroke-width="1.8"/>
<rect x="365.8" y="475.7" width="12" height="12" fill="none" stroke="#ff0000" stroke-width="1.8"/>
<rect x="387.0" y="453.8" width="12" height="12" fill="none" stroke="#ff0000" stroke-width="1.8"/>
<rect x="405.8" y="436.8" width="12" height="12" fill="none" stroke="#ff0000" stroke-width="1.8"/>
<rect x="427.2" y="411.0" width="12" height="12" fill="none" stroke="#ff0000" stroke-width="1.8"/>
<rect x="446.9" y="394.7" width="12" height="12" fill="none" stroke="#ff0000" stroke-width="1.8"/>
<rect x="463.1" y="394.1" width="12" height="12" fill="none" stroke="#ff0000" stroke-width="1.8"/>
<rect x="467.1" y="425.0" width="12" height="12" fill="none" stroke="#ff0000" stroke-width="1.8"/>
<rect x="499.6" y="363.5" width="12" height="12" fill="none" stroke="#ff0000" stroke-width="1.8"/>
<rect x="519.3" y="341.5" width="12" height="12" fill="none" stroke="#ff0000" stroke-width="1.8"/>
<rect x="541.0" y="319.2" width="12" height="12" fill="none" stroke="#ff0000" stroke-width="1.8"/>
<rect x="564.1" y="291.8" width="12" height="12" fill="none" stroke="#ff0000" stroke-width="1.8"/>
<rect x="584.0" y="271.8" width="12" height="12" fill="none" stroke="#ff0000" stroke-width="1.8"/>
<rect x="604.0" y="253.0" width="12" height="12" fill="none" stroke="#ff0000" stroke-width="1.8"/>
<polyline points="234.7,625.9 248.8,611.2 266.2,598.3 280.0,582.0 294.3,565.4 311.7,547.8 322.0,538.0 334.4,527.7 355.6,519.0 368.0,497.9 388.3,470.8 405.0,462.0 422.2,453.4 432.5,420.5 452.2,402.3 474.0,387.1 490.0,372.0 509.4,345.8 537.7,333.8 562.2,317.4" fill="none" stroke="#ff00ff" stroke-width="1.2"/>
<path d="M234.7,617.9L241.0,625.9L234.7,633.9L228.4,625.9Z" fill="none" stroke="#ff00ff" stroke-width="1.2"/>
<path d="M248.8,603.2L255.1,611.2L248.8,619.2L242.5,611.2Z" fill="none" stroke="#ff00ff" stroke-width="1.2"/>
<path d="M266.2,590.3L272.5,598.3L266.2,606.3L259.9,598.3Z" fill="none" stroke="#ff00ff" stroke-width="1.2"/>
<path d="M280.0,574.0L286.3,582.0L280.0,590.0L273.7,582.0Z" fill="none" stroke="#ff00ff" stroke-width="1.2"/>
<path d="M294.3,557.4L300.6,565.4L294.3,573.4L288.0,565.4Z" fill="none" stroke="#ff00ff" stroke-width="1.2"/>
<path d="M311.7,539.8L318.0,547.8L311.7,555.8L305.4,547.8Z" fill="none" stroke="#ff00ff" stroke-width="1.2"/>
<path d="M322.0,530.0L328.3,538.0L322.0,546.0L315.7,538.0Z" fill="none" stroke="#ff00ff" stroke-width="1.2"/>
<path d="M334.4,519.7L340.7,527.7L334.4,535.7L328.1,527.7Z" fill="none" stroke="#ff00ff" stroke-width="1.2"/>
<path d="M355.6,511.0L361.9,519.0L355.6,527.0L349.3,519.0Z" fill="none" stroke="#ff00ff" stroke-width="1.2"/>
<path d="M368.0,489.9L374.3,497.9L368.0,505.9L361.7,497.9Z" fill="none" stroke="#ff00ff" stroke-width="1.2"/>
<path d="M388.3,462.8L394.6,470.8L388.3,478.8L382.0,470.8Z" fill="none" stroke="#ff00ff" stroke-width="1.2"/>
<path d="M405.0,454.0L411.3,462.0L405.0,470.0L398.7,462.0Z" fill="none" stroke="#ff00ff" stroke-width="1.2"/>
<path d="M422.2,445.4L428.5,453.4L422.2,461.4L415.9,453.4Z" fill="none" stroke="#ff00ff" stroke-width="1.2"/>
<path d="M432.5,412.5L438.8,420.5L432.5,428.5L426.2,420.5Z" fill="none" stroke="#ff00ff" stroke-width="1.2"/>
<path d="M452.2,394.3L458.5,402.3L452.2,410.3L445.9,402.3Z" fill="none" stroke="#ff00ff" stroke-width="1.2"/>
<path d="M474.0,379.1L480.3,387.1L474.0,395.1L467.7,387.1Z" fill="none" stroke="#ff00ff" stroke-width="1.2"/>
<path d="M490.0,364.0L496.3,372.0L490.0,380.0L483.7,372.0Z" fill="none" stroke="#ff00ff" stroke-width="1.2"/>
<path d="M509.4,337.8L515.7,345.8L509.4,353.8L503.1,345.8Z" fill="none" stroke="#ff00ff" stroke-width="1.2"/>
<path d="M537.7,325.8L544.0,333.8L537.7,341.8L531.4,333.8Z" fill="none" stroke="#ff00ff" stroke-width="1.2"/>
<path d="M562.2,309.4L568.5,317.4L562.2,325.4L555.9,317.4Z" fill="none" stroke="#ff00ff" stroke-width="1.2"/>
<rect x="75.45" y="62.9" width="807.95" height="643.00" fill="none" stroke="#000" stroke-width="1.4"/>
<path d="M147.56,705.9V697.9M147.56,62.9V70.9M229.18,705.9V697.9M229.18,62.9V70.9M310.80,705.9V697.9M310.80,62.9V70.9M392.42,705.9V697.9M392.42,62.9V70.9M474.04,705.9V697.9M474.04,62.9V70.9M555.66,705.9V697.9M555.66,62.9V70.9M637.28,705.9V697.9M637.28,62.9V70.9M718.90,705.9V697.9M718.90,62.9V70.9M800.52,705.9V697.9M800.52,62.9V70.9M75.45,633.85H83.45M883.4,633.85H875.4M75.45,552.23H83.45M883.4,552.23H875.4M75.45,470.60H83.45M883.4,470.60H875.4M75.45,388.98H83.45M883.4,388.98H875.4M75.45,307.35H83.45M883.4,307.35H875.4M75.45,225.73H83.45M883.4,225.73H875.4M75.45,144.10H83.45M883.4,144.10H875.4" stroke="#000" stroke-width="1.4" fill="none"/>
<text transform="translate(147.56,733.70) scale(1,1.065)" text-anchor="middle" font-family='"Liberation Sans", Arial, Helvetica, sans-serif' font-size="24" fill="#000" stroke="#fff" stroke-width="0.55">10</text>
<text transform="translate(229.18,733.70) scale(1,1.065)" text-anchor="middle" font-family='"Liberation Sans", Arial, Helvetica, sans-serif' font-size="24" fill="#000" stroke="#fff" stroke-width="0.55">20</text>
<text transform="translate(310.80,733.70) scale(1,1.065)" text-anchor="middle" font-family='"Liberation Sans", Arial, Helvetica, sans-serif' font-size="24" fill="#000" stroke="#fff" stroke-width="0.55">30</text>
<text transform="translate(392.42,733.70) scale(1,1.065)" text-anchor="middle" font-family='"Liberation Sans", Arial, Helvetica, sans-serif' font-size="24" fill="#000" stroke="#fff" stroke-width="0.55">40</text>
<text transform="translate(474.04,733.70) scale(1,1.065)" text-anchor="middle" font-family='"Liberation Sans", Arial, Helvetica, sans-serif' font-size="24" fill="#000" stroke="#fff" stroke-width="0.55">50</text>
<text transform="translate(555.66,733.70) scale(1,1.065)" text-anchor="middle" font-family='"Liberation Sans", Arial, Helvetica, sans-serif' font-size="24" fill="#000" stroke="#fff" stroke-width="0.55">60</text>
<text transform="translate(637.28,733.70) scale(1,1.065)" text-anchor="middle" font-family='"Liberation Sans", Arial, Helvetica, sans-serif' font-size="24" fill="#000" stroke="#fff" stroke-width="0.55">70</text>
<text transform="translate(718.90,733.70) scale(1,1.065)" text-anchor="middle" font-family='"Liberation Sans", Arial, Helvetica, sans-serif' font-size="24" fill="#000" stroke="#fff" stroke-width="0.55">80</text>
<text transform="translate(800.52,733.70) scale(1,1.065)" text-anchor="middle" font-family='"Liberation Sans", Arial, Helvetica, sans-serif' font-size="24" fill="#000" stroke="#fff" stroke-width="0.55">90</text>
<text transform="translate(884.14,733.70) scale(1,1.065)" text-anchor="middle" font-family='"Liberation Sans", Arial, Helvetica, sans-serif' font-size="24" fill="#000" stroke="#fff" stroke-width="0.55">100</text>
<text transform="translate(67.70,641.85) scale(1,1.065)" text-anchor="end" font-family='"Liberation Sans", Arial, Helvetica, sans-serif' font-size="24" fill="#000" stroke="#fff" stroke-width="0.55">10</text>
<text transform="translate(67.70,560.23) scale(1,1.065)" text-anchor="end" font-family='"Liberation Sans", Arial, Helvetica, sans-serif' font-size="24" fill="#000" stroke="#fff" stroke-width="0.55">20</text>
<text transform="translate(67.70,478.60) scale(1,1.065)" text-anchor="end" font-family='"Liberation Sans", Arial, Helvetica, sans-serif' font-size="24" fill="#000" stroke="#fff" stroke-width="0.55">30</text>
<text transform="translate(67.70,396.98) scale(1,1.065)" text-anchor="end" font-family='"Liberation Sans", Arial, Helvetica, sans-serif' font-size="24" fill="#000" stroke="#fff" stroke-width="0.55">40</text>
<text transform="translate(67.70,315.35) scale(1,1.065)" text-anchor="end" font-family='"Liberation Sans", Arial, Helvetica, sans-serif' font-size="24" fill="#000" stroke="#fff" stroke-width="0.55">50</text>
<text transform="translate(67.70,233.73) scale(1,1.065)" text-anchor="end" font-family='"Liberation Sans", Arial, Helvetica, sans-serif' font-size="24" fill="#000" stroke="#fff" stroke-width="0.55">60</text>
<text transform="translate(67.70,152.10) scale(1,1.065)" text-anchor="end" font-family='"Liberation Sans", Arial, Helvetica, sans-serif' font-size="24" fill="#000" stroke="#fff" stroke-width="0.55">70</text>
<text transform="translate(67.70,70.48) scale(1,1.065)" text-anchor="end" font-family='"Liberation Sans", Arial, Helvetica, sans-serif' font-size="24" fill="#000" stroke="#fff" stroke-width="0.55">80</text>
<text transform="translate(363.00,764.60) scale(1,1.065)" text-anchor="start" font-family='"Liberation Sans", Arial, Helvetica, sans-serif' font-size="24" fill="#000" stroke="#fff" stroke-width="0.55" textLength="227.8" lengthAdjust="spacing">Longitudinal direction</text>
<text transform="translate(27.2,490.4) rotate(-90) scale(1,1.063)" text-anchor="start" font-family='"Liberation Sans", Arial, Helvetica, sans-serif' font-size="24.75" fill="#000" stroke="#fff" stroke-width="0.55" textLength="211.4" lengthAdjust="spacing">Latitudinal direction</text>
<text transform="translate(726.10,27.90) scale(1,1.065)" text-anchor="start" font-family='"Liberation Sans", Arial, Helvetica, sans-serif' font-size="24" fill="#000" stroke="#fff" stroke-width="0.55" textLength="287.3" lengthAdjust="spacing">Geomagnetic anomaly (nT)</text>
<rect x="915.5" y="697.03" width="41.30" height="10.67" shape-rendering="crispEdges" fill="#000094"/>
<rect x="915.5" y="686.97" width="41.30" height="10.67" shape-rendering="crispEdges" fill="#0000a4"/>
<rect x="915.5" y="676.90" width="41.30" height="10.67" shape-rendering="crispEdges" fill="#0000b4"/>
<rect x="915.5" y="666.83" width="41.30" height="10.67" shape-rendering="crispEdges" fill="#0000c4"/>
<rect x="915.5" y="656.77" width="41.30" height="10.67" shape-rendering="crispEdges" fill="#0000d4"/>
<rect x="915.5" y="646.70" width="41.30" height="10.67" shape-rendering="crispEdges" fill="#0000e4"/>
<rect x="915.5" y="636.64" width="41.30" height="10.67" shape-rendering="crispEdges" fill="#0000f4"/>
<rect x="915.5" y="626.57" width="41.30" height="10.67" shape-rendering="crispEdges" fill="#0004ff"/>
<rect x="915.5" y="616.50" width="41.30" height="10.67" shape-rendering="crispEdges" fill="#0011ff"/>
<rect x="915.5" y="606.44" width="41.30" height="10.67" shape-rendering="crispEdges" fill="#001fff"/>
<rect x="915.5" y="596.37" width="41.30" height="10.67" shape-rendering="crispEdges" fill="#002cff"/>
<rect x="915.5" y="586.30" width="41.30" height="10.67" shape-rendering="crispEdges" fill="#003aff"/>
<rect x="915.5" y="576.24" width="41.30" height="10.67" shape-rendering="crispEdges" fill="#0047ff"/>
<rect x="915.5" y="566.17" width="41.30" height="10.67" shape-rendering="crispEdges" fill="#0056ff"/>
<rect x="915.5" y="556.10" width="41.30" height="10.67" shape-rendering="crispEdges" fill="#0066ff"/>
<rect x="915.5" y="546.04" width="41.30" height="10.67" shape-rendering="crispEdges" fill="#0076ff"/>
<rect x="915.5" y="535.97" width="41.30" height="10.67" shape-rendering="crispEdges" fill="#0086ff"/>
<rect x="915.5" y="525.90" width="41.30" height="10.67" shape-rendering="crispEdges" fill="#0097ff"/>
<rect x="915.5" y="515.84" width="41.30" height="10.67" shape-rendering="crispEdges" fill="#00a7ff"/>
<rect x="915.5" y="505.77" width="41.30" height="10.67" shape-rendering="crispEdges" fill="#00b8ff"/>
<rect x="915.5" y="495.71" width="41.30" height="10.67" shape-rendering="crispEdges" fill="#00caff"/>
<rect x="915.5" y="485.64" width="41.30" height="10.67" shape-rendering="crispEdges" fill="#00dbff"/>
<rect x="915.5" y="475.57" width="41.30" height="10.67" shape-rendering="crispEdges" fill="#00edff"/>
<rect x="915.5" y="465.51" width="41.30" height="10.67" shape-rendering="crispEdges" fill="#00ffff"/>
<rect x="915.5" y="455.44" width="41.30" height="10.67" shape-rendering="crispEdges" fill="#00ffef"/>
<rect x="915.5" y="445.37" width="41.30" height="10.67" shape-rendering="crispEdges" fill="#00ffdf"/>
<rect x="915.5" y="435.31" width="41.30" height="10.67" shape-rendering="crispEdges" fill="#00ffce"/>
<rect x="915.5" y="425.24" width="41.30" height="10.67" shape-rendering="crispEdges" fill="#00ffbc"/>
<rect x="915.5" y="415.17" width="41.30" height="10.67" shape-rendering="crispEdges" fill="#00fda5"/>
<rect x="915.5" y="405.11" width="41.30" height="10.67" shape-rendering="crispEdges" fill="#00fc8f"/>
<rect x="915.5" y="395.04" width="41.30" height="10.67" shape-rendering="crispEdges" fill="#00fa78"/>
<rect x="915.5" y="384.98" width="41.30" height="10.67" shape-rendering="crispEdges" fill="#00f869"/>
<rect x="915.5" y="374.91" width="41.30" height="10.67" shape-rendering="crispEdges" fill="#00f55c"/>
<rect x="915.5" y="364.84" width="41.30" height="10.67" shape-rendering="crispEdges" fill="#28f948"/>
<rect x="915.5" y="354.78" width="41.30" height="10.67" shape-rendering="crispEdges" fill="#57ff33"/>
<rect x="915.5" y="344.71" width="41.30" height="10.67" shape-rendering="crispEdges" fill="#81ff1a"/>
<rect x="915.5" y="334.64" width="41.30" height="10.67" shape-rendering="crispEdges" fill="#abff00"/>
<rect x="915.5" y="324.58" width="41.30" height="10.67" shape-rendering="crispEdges" fill="#c8ff00"/>
<rect x="915.5" y="314.51" width="41.30" height="10.67" shape-rendering="crispEdges" fill="#e6ff00"/>
<rect x="915.5" y="304.44" width="41.30" height="10.67" shape-rendering="crispEdges" fill="#fffd00"/>
<rect x="915.5" y="294.38" width="41.30" height="10.67" shape-rendering="crispEdges" fill="#ffed00"/>
<rect x="915.5" y="284.31" width="41.30" height="10.67" shape-rendering="crispEdges" fill="#ffde00"/>
<rect x="915.5" y="274.24" width="41.30" height="10.67" shape-rendering="crispEdges" fill="#ffce00"/>
<rect x="915.5" y="264.18" width="41.30" height="10.67" shape-rendering="crispEdges" fill="#ffbe00"/>
<rect x="915.5" y="254.11" width="41.30" height="10.67" shape-rendering="crispEdges" fill="#ffaf00"/>
<rect x="915.5" y="244.05" width="41.30" height="10.67" shape-rendering="crispEdges" fill="#ff9f00"/>
<rect x="915.5" y="233.98" width="41.30" height="10.67" shape-rendering="crispEdges" fill="#ff8f00"/>
<rect x="915.5" y="223.91" width="41.30" height="10.67" shape-rendering="crispEdges" fill="#ff8000"/>
<rect x="915.5" y="213.85" width="41.30" height="10.67" shape-rendering="crispEdges" fill="#ff7000"/>
<rect x="915.5" y="203.78" width="41.30" height="10.67" shape-rendering="crispEdges" fill="#ff6100"/>
<rect x="915.5" y="193.71" width="41.30" height="10.67" shape-rendering="crispEdges" fill="#ff4f00"/>
<rect x="915.5" y="183.65" width="41.30" height="10.67" shape-rendering="crispEdges" fill="#ff3c00"/>
<rect x="915.5" y="173.58" width="41.30" height="10.67" shape-rendering="crispEdges" fill="#ff2a00"/>
<rect x="915.5" y="163.51" width="41.30" height="10.67" shape-rendering="crispEdges" fill="#ff1700"/>
<rect x="915.5" y="153.45" width="41.30" height="10.67" shape-rendering="crispEdges" fill="#ff0400"/>
<rect x="915.5" y="143.38" width="41.30" height="10.67" shape-rendering="crispEdges" fill="#ff0000"/>
<rect x="915.5" y="133.31" width="41.30" height="10.67" shape-rendering="crispEdges" fill="#ff0000"/>
<rect x="915.5" y="123.25" width="41.30" height="10.67" shape-rendering="crispEdges" fill="#ff0000"/>
<rect x="915.5" y="113.18" width="41.30" height="10.67" shape-rendering="crispEdges" fill="#fb0000"/>
<rect x="915.5" y="103.12" width="41.30" height="10.67" shape-rendering="crispEdges" fill="#eb0000"/>
<rect x="915.5" y="93.05" width="41.30" height="10.67" shape-rendering="crispEdges" fill="#dc0000"/>
<rect x="915.5" y="82.98" width="41.30" height="10.67" shape-rendering="crispEdges" fill="#c70000"/>
<rect x="915.5" y="72.92" width="41.30" height="10.67" shape-rendering="crispEdges" fill="#af0000"/>
<rect x="915.5" y="62.85" width="41.30" height="10.67" shape-rendering="crispEdges" fill="#980000"/>
<rect x="915.5" y="62.85" width="41.30" height="644.25" fill="none" stroke="#000" stroke-width="1.4"/>
<path d="M915.5,642.68H922.5M956.8,642.68H949.8M915.5,578.25H922.5M956.8,578.25H949.8M915.5,513.83H922.5M956.8,513.83H949.8M915.5,449.40H922.5M956.8,449.40H949.8M915.5,384.98H922.5M956.8,384.98H949.8M915.5,320.55H922.5M956.8,320.55H949.8M915.5,256.13H922.5M956.8,256.13H949.8M915.5,191.70H922.5M956.8,191.70H949.8M915.5,127.27H922.5M956.8,127.27H949.8" stroke="#000" stroke-width="1.4"/>
<text transform="translate(960.10,715.20) scale(1,1.065)" text-anchor="start" font-family='"Liberation Sans", Arial, Helvetica, sans-serif' font-size="24" fill="#000" stroke="#fff" stroke-width="0.55" textLength="50" lengthAdjust="spacing">-400</text>
<text transform="translate(960.10,650.78) scale(1,1.065)" text-anchor="start" font-family='"Liberation Sans", Arial, Helvetica, sans-serif' font-size="24" fill="#000" stroke="#fff" stroke-width="0.55" textLength="50" lengthAdjust="spacing">-200</text>
<text transform="translate(961.30,586.35) scale(1,1.065)" text-anchor="start" font-family='"Liberation Sans", Arial, Helvetica, sans-serif' font-size="24" fill="#000" stroke="#fff" stroke-width="0.55">0</text>
<text transform="translate(961.30,521.93) scale(1,1.065)" text-anchor="start" font-family='"Liberation Sans", Arial, Helvetica, sans-serif' font-size="24" fill="#000" stroke="#fff" stroke-width="0.55">200</text>
<text transform="translate(961.30,457.50) scale(1,1.065)" text-anchor="start" font-family='"Liberation Sans", Arial, Helvetica, sans-serif' font-size="24" fill="#000" stroke="#fff" stroke-width="0.55">400</text>
<text transform="translate(961.30,393.08) scale(1,1.065)" text-anchor="start" font-family='"Liberation Sans", Arial, Helvetica, sans-serif' font-size="24" fill="#000" stroke="#fff" stroke-width="0.55">600</text>
<text transform="translate(961.30,328.65) scale(1,1.065)" text-anchor="start" font-family='"Liberation Sans", Arial, Helvetica, sans-serif' font-size="24" fill="#000" stroke="#fff" stroke-width="0.55">800</text>
<text transform="translate(962.50,264.23) scale(1,1.065)" text-anchor="start" font-family='"Liberation Sans", Arial, Helvetica, sans-serif' font-size="24" fill="#000" stroke="#fff" stroke-width="0.55">1000</text>
<text transform="translate(962.50,199.80) scale(1,1.065)" text-anchor="start" font-family='"Liberation Sans", Arial, Helvetica, sans-serif' font-size="24" fill="#000" stroke="#fff" stroke-width="0.55">1200</text>
<text transform="translate(962.50,135.37) scale(1,1.065)" text-anchor="start" font-family='"Liberation Sans", Arial, Helvetica, sans-serif' font-size="24" fill="#000" stroke="#fff" stroke-width="0.55">1400</text>
<text transform="translate(962.50,70.95) scale(1,1.065)" text-anchor="start" font-family='"Liberation Sans", Arial, Helvetica, sans-serif' font-size="24" fill="#000" stroke="#fff" stroke-width="0.55">1600</text>
<rect x="258.3" y="73.5" width="615.7" height="165.6" fill="#fff" stroke="#000" stroke-width="1.4"/>
<ellipse cx="301" cy="92.5" rx="31.4" ry="11.6" fill="none" stroke="#0000a0" stroke-width="1.3"/>
<ellipse cx="301" cy="92.5" rx="21.4" ry="8" fill="none" stroke="#00ff80" stroke-width="1.3"/>
<ellipse cx="300" cy="92.5" rx="10.4" ry="4.2" fill="none" stroke="#a00000" stroke-width="1.3"/>
<path d="M269.8,124H284.7M291.2,124H292.7M299.2,124H313.8M320.3,124H321.8M328.4,124H332.7" stroke="#0000ff" stroke-width="1.3"/>
<path d="M301,116L306,124L301,132L296,124Z" fill="none" stroke="#0000ff" stroke-width="1.2"/>
<path d="M269.8,156.3H332.7" stroke="#000" stroke-width="1.3"/><circle cx="301" cy="156.3" r="6.3" fill="none" stroke="#000" stroke-width="1.3"/>
<path d="M269.8,187.2H332.7" stroke="#ff0000" stroke-width="1.3"/><rect x="295" y="181.2" width="12" height="12" fill="none" stroke="#ff0000" stroke-width="1.4"/>
<path d="M269.8,219.4H332.7" stroke="#ff00ff" stroke-width="1.3"/><path d="M301,211.4L306,219.4L301,227.4L296,219.4Z" fill="none" stroke="#ff00ff" stroke-width="1.2"/>
<text transform="translate(336.90,101.40) scale(1,1.065)" text-anchor="start" font-family='"Liberation Sans", Arial, Helvetica, sans-serif' font-size="24" fill="#000" stroke="#fff" stroke-width="0.55" textLength="513.7" lengthAdjust="spacing">Reference geomagnetic map of matching region</text>
<text transform="translate(336.90,133.30) scale(1,1.065)" text-anchor="start" font-family='"Liberation Sans", Arial, Helvetica, sans-serif' font-size="24" fill="#000" stroke="#fff" stroke-width="0.55" textLength="109.6" lengthAdjust="spacing">Real trace</text>
<text transform="translate(336.90,166.00) scale(1,1.065)" text-anchor="start" font-family='"Liberation Sans", Arial, Helvetica, sans-serif' font-size="24" fill="#000" stroke="#fff" stroke-width="0.55" textLength="232.3" lengthAdjust="spacing">Indication trace of INS</text>
<text transform="translate(336.90,196.80) scale(1,1.065)" text-anchor="start" font-family='"Liberation Sans", Arial, Helvetica, sans-serif' font-size="24" fill="#000" stroke="#fff" stroke-width="0.55" textLength="522.9" lengthAdjust="spacing">Matching trace of VICCP with rigid&#160; transfomation</text>
<text transform="translate(336.90,228.90) scale(1,1.065)" text-anchor="start" font-family='"Liberation Sans", Arial, Helvetica, sans-serif' font-size="24" fill="#000" stroke="#fff" stroke-width="0.55" textLength="526.7" lengthAdjust="spacing">Matching trace of VICCP with affine transfomation</text>
</svg></body></html>
